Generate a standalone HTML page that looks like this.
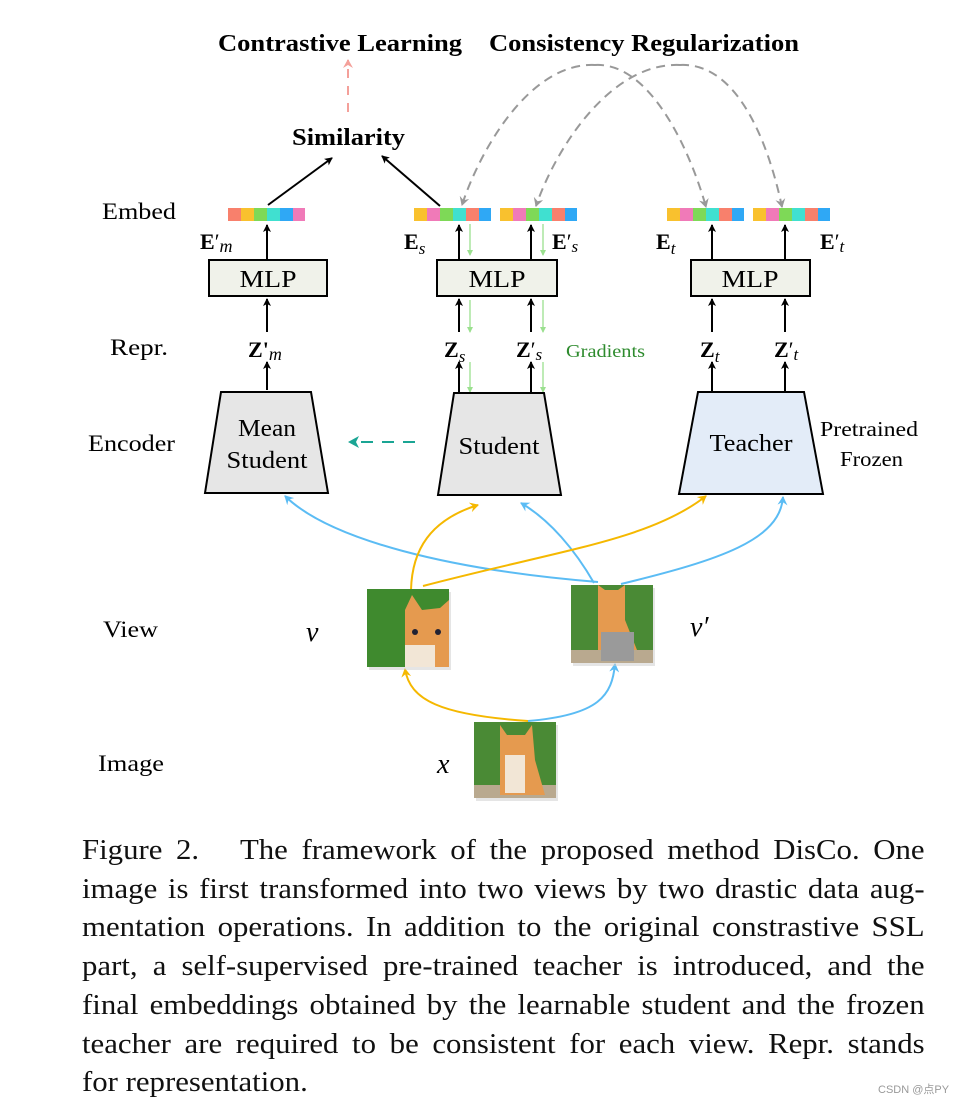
<!DOCTYPE html>
<html><head><meta charset="utf-8"><style>
html,body{margin:0;padding:0;background:#fff;}
body{width:957px;height:1104px;position:relative;overflow:hidden;font-family:"Liberation Serif",serif;}
svg{position:absolute;left:0;top:0;}
.cap{position:absolute;left:82px;width:766px;font-size:28px;line-height:38.7px;color:#111;transform:scaleX(1.1);transform-origin:0 0;}
.cap div{text-align:justify;text-align-last:justify;white-space:nowrap;}
.cap div.last{text-align-last:left;}
</style></head><body>
<svg width="957" height="1104" viewBox="0 0 957 1104" font-family="Liberation Serif, serif">
<defs>
<marker id="ab" markerWidth="8" markerHeight="8" refX="7" refY="4" orient="auto" markerUnits="userSpaceOnUse"><path d="M0,0 L8,4 L0,8 L2,4z" fill="#000"/></marker>
<marker id="ag" markerWidth="10" markerHeight="10" refX="8" refY="5" orient="auto" markerUnits="userSpaceOnUse"><path d="M0,0 L9,5 L0,10 L3,5z" fill="#999"/></marker>
<marker id="ay" markerWidth="10" markerHeight="10" refX="8" refY="5" orient="auto" markerUnits="userSpaceOnUse"><path d="M0,0 L9,5 L0,10 L3,5z" fill="#f5b800"/></marker>
<marker id="abl" markerWidth="10" markerHeight="10" refX="8" refY="5" orient="auto" markerUnits="userSpaceOnUse"><path d="M0,0 L9,5 L0,10 L3,5z" fill="#5bbcf4"/></marker>
<marker id="ap" markerWidth="10" markerHeight="10" refX="8" refY="5" orient="auto" markerUnits="userSpaceOnUse"><path d="M0,0 L9,5 L0,10 L3,5z" fill="#f4a09a"/></marker>
<marker id="at" markerWidth="12" markerHeight="12" refX="9" refY="6" orient="auto" markerUnits="userSpaceOnUse"><path d="M0,0 L11,6 L0,12 L3,6z" fill="#1aa594"/></marker>
<marker id="agr" markerWidth="6" markerHeight="6" refX="5" refY="3" orient="auto" markerUnits="userSpaceOnUse"><path d="M0,0 L6,3 L0,6z" fill="#9be08f"/></marker>
</defs>
<text x="218" y="51" font-size="24" font-weight="bold" textLength="244" lengthAdjust="spacingAndGlyphs">Contrastive Learning</text>
<text x="489" y="51" font-size="24" font-weight="bold" textLength="310" lengthAdjust="spacingAndGlyphs">Consistency Regularization</text>
<line x1="348" y1="112" x2="348" y2="60" stroke="#f4a09a" stroke-width="2" stroke-dasharray="9,8" marker-end="url(#ap)"/>
<text x="292" y="145" font-size="24" font-weight="bold" textLength="113" lengthAdjust="spacingAndGlyphs">Similarity</text>
<line x1="268" y1="205" x2="332" y2="158" stroke="#000" stroke-width="2" marker-end="url(#ab)"/>
<line x1="440" y1="206" x2="382" y2="156" stroke="#000" stroke-width="2" marker-end="url(#ab)"/>
<path d="M595,65 C530,62 480,150 462,205" fill="none" stroke="#999" stroke-width="2" stroke-dasharray="9,6" marker-end="url(#ag)"/>
<path d="M595,65 C650,62 690,150 706,207" fill="none" stroke="#999" stroke-width="2" stroke-dasharray="9,6" marker-end="url(#ag)"/>
<path d="M680,65 C610,62 555,150 536,206" fill="none" stroke="#999" stroke-width="2" stroke-dasharray="9,6" marker-end="url(#ag)"/>
<path d="M680,65 C740,62 770,150 782,207" fill="none" stroke="#999" stroke-width="2" stroke-dasharray="9,6" marker-end="url(#ag)"/>
<g>
<rect x="228" y="208" width="13" height="13" fill="#f8806c"/><rect x="241" y="208" width="13" height="13" fill="#f9c12e"/><rect x="254" y="208" width="13" height="13" fill="#7ed957"/><rect x="267" y="208" width="13" height="13" fill="#40e0d0"/><rect x="280" y="208" width="13" height="13" fill="#2fa8f5"/><rect x="293" y="208" width="12" height="13" fill="#f07ab8"/>
</g>
<g id="bs">
<rect x="414" y="208" width="13" height="13" fill="#f9c12e"/><rect x="427" y="208" width="13" height="13" fill="#f07ab8"/><rect x="440" y="208" width="13" height="13" fill="#7ed957"/><rect x="453" y="208" width="13" height="13" fill="#40e0d0"/><rect x="466" y="208" width="13" height="13" fill="#f8806c"/><rect x="479" y="208" width="12" height="13" fill="#2fa8f5"/>
</g>
<use href="#bs" x="86"/><use href="#bs" x="253"/><use href="#bs" x="339"/>
<g font-size="23">
<text x="102" y="219" textLength="74" lengthAdjust="spacingAndGlyphs">Embed</text>
<text x="110" y="355" textLength="58" lengthAdjust="spacingAndGlyphs">Repr.</text>
<text x="88" y="451" textLength="87" lengthAdjust="spacingAndGlyphs">Encoder</text>
<text x="103" y="637" textLength="55" lengthAdjust="spacingAndGlyphs">View</text>
<text x="98" y="771" textLength="66" lengthAdjust="spacingAndGlyphs">Image</text>
</g>
<g fill="#f0f2ea" stroke="#000" stroke-width="2">
<rect x="209" y="260" width="118" height="36"/><rect x="437" y="260" width="120" height="36"/><rect x="691" y="260" width="119" height="36"/>
</g>
<g font-size="24" text-anchor="middle"><text x="268" y="287" textLength="57" lengthAdjust="spacingAndGlyphs">MLP</text><text x="497" y="287" textLength="57" lengthAdjust="spacingAndGlyphs">MLP</text><text x="750" y="287" textLength="57" lengthAdjust="spacingAndGlyphs">MLP</text></g>
<g stroke="#000" stroke-width="2" marker-end="url(#ab)">
<line x1="267" y1="259" x2="267" y2="225"/><line x1="459" y1="259" x2="459" y2="225"/><line x1="531" y1="259" x2="531" y2="225"/><line x1="712" y1="259" x2="712" y2="225"/><line x1="785" y1="259" x2="785" y2="225"/>
<line x1="267" y1="332" x2="267" y2="299"/><line x1="459" y1="332" x2="459" y2="299"/><line x1="531" y1="332" x2="531" y2="299"/><line x1="712" y1="332" x2="712" y2="299"/><line x1="785" y1="332" x2="785" y2="299"/>
<line x1="267" y1="390" x2="267" y2="362"/><line x1="459" y1="392" x2="459" y2="362"/><line x1="531" y1="392" x2="531" y2="362"/><line x1="712" y1="392" x2="712" y2="362"/><line x1="785" y1="392" x2="785" y2="362"/>
</g>
<g stroke="#9be08f" stroke-width="1.3" marker-end="url(#agr)">
<line x1="470" y1="224" x2="470" y2="255"/><line x1="543" y1="224" x2="543" y2="255"/>
<line x1="470" y1="300" x2="470" y2="332"/><line x1="543" y1="300" x2="543" y2="332"/>
<line x1="470" y1="362" x2="470" y2="392"/><line x1="543" y1="362" x2="543" y2="392"/>
</g>
<text x="566" y="357" font-size="18" fill="#2e8b2e" textLength="79" lengthAdjust="spacingAndGlyphs">Gradients</text>
<g font-size="22" font-weight="bold">
<text x="200" y="249">E<tspan font-weight="normal">′</tspan><tspan font-style="italic" font-weight="normal" font-size="18" dy="3">m</tspan></text>
<text x="404" y="249">E<tspan font-style="italic" font-weight="normal" font-size="17" dy="5">s</tspan></text>
<text x="552" y="249">E<tspan font-weight="normal">′</tspan><tspan font-style="italic" font-weight="normal" font-size="17" dy="3">s</tspan></text>
<text x="656" y="249">E<tspan font-style="italic" font-weight="normal" font-size="17" dy="5">t</tspan></text>
<text x="820" y="249">E<tspan font-weight="normal">′</tspan><tspan font-style="italic" font-weight="normal" font-size="17" dy="3">t</tspan></text>
<text x="248" y="357">Z<tspan>'</tspan><tspan font-style="italic" font-weight="normal" font-size="18" dy="3">m</tspan></text>
<text x="444" y="357">Z<tspan font-style="italic" font-weight="normal" font-size="17" dy="5">s</tspan></text>
<text x="516" y="357">Z<tspan font-weight="normal">′</tspan><tspan font-style="italic" font-weight="normal" font-size="17" dy="3">s</tspan></text>
<text x="700" y="357">Z<tspan font-style="italic" font-weight="normal" font-size="17" dy="5">t</tspan></text>
<text x="774" y="357">Z<tspan font-weight="normal">′</tspan><tspan font-style="italic" font-weight="normal" font-size="17" dy="3">t</tspan></text>
</g>
<polygon points="221,392 311,392 328,493 205,493" fill="#e6e6e6" stroke="#000" stroke-width="2"/>
<polygon points="454,393 544,393 561,495 438,495" fill="#e6e6e6" stroke="#000" stroke-width="2"/>
<polygon points="698,392 804,392 823,494 679,494" fill="#e3ecf8" stroke="#000" stroke-width="2"/>
<g font-size="24" text-anchor="middle">
<text x="267" y="436" textLength="58" lengthAdjust="spacingAndGlyphs">Mean</text><text x="267" y="468" textLength="81" lengthAdjust="spacingAndGlyphs">Student</text>
<text x="499" y="454" textLength="81" lengthAdjust="spacingAndGlyphs">Student</text><text x="751" y="451" textLength="83" lengthAdjust="spacingAndGlyphs">Teacher</text>
</g>
<text x="820" y="436" font-size="21" textLength="98" lengthAdjust="spacingAndGlyphs">Pretrained</text>
<text x="840" y="466" font-size="21" textLength="63" lengthAdjust="spacingAndGlyphs">Frozen</text>
<line x1="415" y1="442" x2="350" y2="442" stroke="#1aa594" stroke-width="2" stroke-dasharray="12,9" marker-end="url(#at)"/>
<g fill="none" stroke-width="2">
<path d="M598,582 C450,570 330,540 285,496" stroke="#5bbcf4" marker-end="url(#abl)"/>
<path d="M594,583 C575,550 550,520 521,503" stroke="#5bbcf4" marker-end="url(#abl)"/>
<path d="M621,584 C720,560 780,540 783,497" stroke="#5bbcf4" marker-end="url(#abl)"/>
<path d="M411,590 C412,550 430,520 478,505" stroke="#f5b800" marker-end="url(#ay)"/>
<path d="M423,586 C560,550 650,540 706,496" stroke="#f5b800" marker-end="url(#ay)"/>
<path d="M528,721 C440,715 410,700 405,669" stroke="#f5b800" marker-end="url(#ay)"/>
<path d="M528,721 C600,715 612,695 615,664" stroke="#5bbcf4" marker-end="url(#abl)"/>
</g>
<g>
<rect x="369" y="592" width="82" height="78" fill="#ccc" opacity="0.5"/>
<rect x="367" y="589" width="82" height="78" fill="#3f8a2e"/>
<path d="M405,667 L405,610 L412,595 L422,610 L440,608 L449,600 L449,667z" fill="#e59a4f"/>
<rect x="405" y="645" width="30" height="22" fill="#f2e6d6"/>
<circle cx="415" cy="632" r="3" fill="#223"/><circle cx="438" cy="632" r="3" fill="#223"/>
<rect x="573" y="588" width="82" height="78" fill="#ccc" opacity="0.5"/>
<rect x="571" y="585" width="82" height="78" fill="#4a8a35"/>
<rect x="571" y="650" width="82" height="13" fill="#b9a98f"/>
<path d="M598,585 L605,590 L618,590 L625,585 L625,620 L637,650 L598,650z" fill="#e59a4f"/>
<rect x="601" y="632" width="33" height="29" fill="#9a9a9a"/>
<rect x="476" y="725" width="82" height="76" fill="#ccc" opacity="0.5"/>
<rect x="474" y="722" width="82" height="76" fill="#4a8a35"/>
<rect x="474" y="785" width="82" height="13" fill="#b9a98f"/>
<path d="M500,725 L507,735 L525,735 L532,725 L535,760 L545,795 L500,795z" fill="#e59a4f"/>
<rect x="505" y="755" width="20" height="38" fill="#f2e6d6"/>
</g>
<g font-size="28" font-style="italic"><text x="306" y="641">v</text><text x="690" y="636">v′</text><text x="437" y="773">x</text></g>
<text x="878" y="1093" font-size="11" fill="#999" font-family="Liberation Sans, Noto Sans CJK SC, sans-serif">CSDN @点PY</text>
</svg>
<div class="cap" style="top:832px">
<div>Figure 2.&nbsp;&nbsp;&nbsp;The framework of the proposed method DisCo. One</div>
<div>image is first transformed into two views by two drastic data aug-</div>
<div>mentation operations. In addition to the original constrastive SSL</div>
<div>part, a self-supervised pre-trained teacher is introduced, and the</div>
<div>final embeddings obtained by the learnable student and the frozen</div>
<div>teacher are required to be consistent for each view. Repr. stands</div>
<div class="last">for representation.</div>
</div>
</body></html>
